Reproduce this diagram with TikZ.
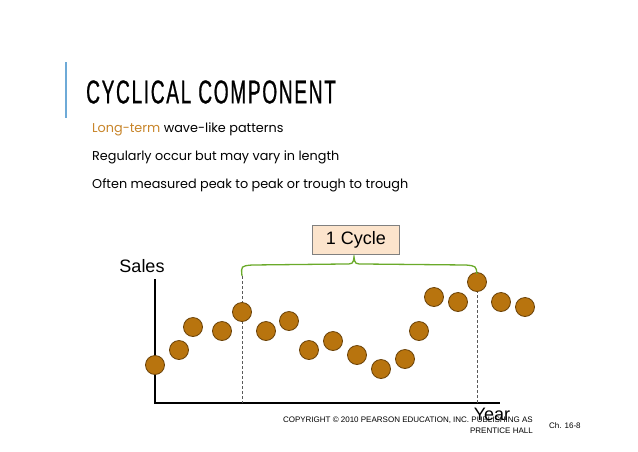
\documentclass[tikz,border=0pt]{standalone}
\usepackage{fontspec}
\setmainfont{Liberation Sans}
\newfontfamily\titlefont[FakeStretch=0.58,LetterSpace=5,FakeBold=0.6]{Liberation Sans}
\newfontfamily\bodyfont{Poppins}
\usetikzlibrary{decorations.pathreplacing}
\definecolor{dotfill}{HTML}{B8740E}
\definecolor{dotline}{HTML}{6B4208}
\definecolor{accent}{HTML}{C8852A}
\definecolor{brace}{HTML}{6AAA2A}
\definecolor{boxfill}{HTML}{FCE4CC}
\tikzset{dot/.style={circle,fill=dotfill,draw=dotline,line width=0.8pt,minimum size=19pt,inner sep=0pt},
body/.style={anchor=west,inner sep=0pt,font=\bodyfont\fontsize{12.8}{14}\selectfont},
guide/.style={densely dashed,gray!70!black,line width=0.5pt}}
\begin{document}
\begin{tikzpicture}[x=1pt,y=-1pt]
\useasboundingbox (0,0) rectangle (638,451);
\fill[white] (0,0) rectangle (638,451);
\draw[line width=1.5pt,color={rgb,255:red,110;green,170;blue,215}] (66,62) -- (66,118);
\node[anchor=west,inner sep=0pt] (title) at (86,92) {\titlefont\fontsize{33}{35}\selectfont CYCLICAL COMPONENT};
\node[body] (l1) at (92,129) {\textcolor{accent}{Long-term} wave-like patterns};
\node[body] (l2) at (92,157) {Regularly occur but may vary in length};
\node[body] (l3) at (92,185) {Often measured peak to peak or trough to trough};
% axes
\coordinate (o) at (155,403);
\coordinate (ytop) at (155,279);
\coordinate (xend) at (500,403);
\draw[line width=1.5pt] (ytop) -- (o) -- (xend);
\node[font=\fontsize{18}{20}\selectfont] (sales) at (142,266) {Sales};
\node[font=\fontsize{18}{20}\selectfont] (year) at (492,414) {Year};
% guides
\coordinate (g1t) at (242,276); \coordinate (g1b) at (242,403);
\coordinate (g2t) at (477,280); \coordinate (g2b) at (477,403);
\draw[guide] (g1t) -- (g1b);
\draw[guide] (g2t) -- (g2b);
% dots
\foreach \i/\x/\y in {1/155/365,2/179/350,3/193/327,4/222/331,5/242/312,6/266/331,7/289/321,8/309/350,9/333/341,10/357/355,11/381/369,12/405/359,13/419/331,14/434/297,15/458/302,16/477/282,17/501/302,18/525/307}
  \node[dot] (d\i) at (\x,\y) {};
% brace
\draw[brace,line width=1.3pt] (g1t) .. controls (241,266) .. (252,265) -- (344,264) .. controls (353,264) .. (354,257) .. controls (355,264) .. (364,264) -- (466,265) .. controls (476,266) .. (477,274);
\node[draw=gray,fill=boxfill,line width=0.8pt,minimum width=87pt,minimum height=29pt,font=\fontsize{18}{20}\selectfont] (cyc) at (356,240) {1 Cycle};
\node[align=right,anchor=north east,inner sep=0pt,font=\fontsize{8}{11}\selectfont] (copy) at (533,417) {COPYRIGHT © 2010 PEARSON EDUCATION, INC. PUBLISHING AS\\PRENTICE HALL};
\node[anchor=west,inner sep=0pt,font=\fontsize{8}{10}\selectfont] (ch) at (549,426) {Ch. 16-8};
\end{tikzpicture}
\end{document}
